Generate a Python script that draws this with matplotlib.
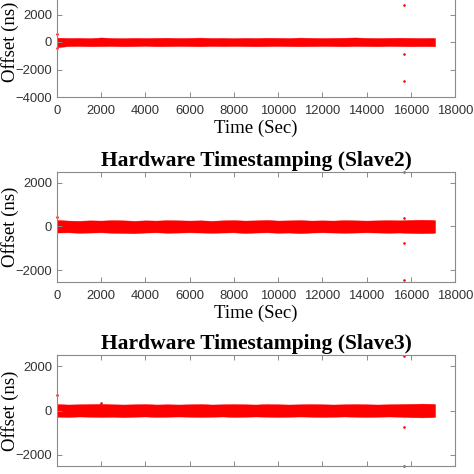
import numpy as np
import matplotlib
matplotlib.use("Agg")
import matplotlib.pyplot as plt

band_t = [0, 500, 1000, 1500, 2000, 2500, 3000, 3500, 4000, 4500, 5000, 5500,
          6000, 6500, 7000, 7500, 8000, 8500, 9000, 9500, 10000, 10500, 11000,
          11500, 12000, 12500, 13000, 13500, 14000, 14500, 15000, 15500, 16000,
          16500, 17000, 17100]

s1_upper = [320, 290, 300, 280, 330, 290, 280, 300, 290, 300, 310, 290, 300, 320,
            290, 300, 280, 300, 290, 310, 300, 290, 320, 300, 290, 300, 310, 330,
            300, 290, 300, 310, 300, 290, 300, 280]
s1_lower = [-380, -300, -290, -310, -300, -290, -310, -300, -280, -310, -300, -290,
            -300, -310, -290, -300, -290, -300, -310, -300, -290, -300, -310, -300,
            -290, -300, -310, -290, -300, -310, -290, -300, -310, -300, -310, -300]

s2_upper = [300, 270, 260, 280, 270, 290, 280, 260, 280, 270, 290, 280, 270, 280,
            260, 280, 290, 270, 280, 300, 270, 280, 290, 270, 280, 270, 290, 280,
            270, 280, 290, 280, 300, 310, 300, 280]
s2_lower = [-280, -270, -290, -280, -270, -290, -300, -310, -280, -270, -290, -280,
            -270, -280, -290, -280, -270, -300, -280, -270, -290, -280, -310, -280,
            -270, -280, -290, -280, -270, -280, -290, -280, -300, -310, -300, -280]

s3_upper = [290, 270, 280, 290, 300, 280, 270, 280, 290, 270, 280, 270, 280, 290,
            270, 280, 290, 280, 270, 290, 280, 270, 280, 290, 280, 270, 280, 290,
            280, 270, 280, 290, 300, 310, 300, 280]
s3_lower = [-280, -290, -270, -280, -290, -280, -300, -280, -270, -290, -280, -270,
            -280, -290, -280, -270, -290, -280, -270, -280, -290, -280, -270, -280,
            -290, -280, -270, -280, -290, -280, -270, -280, -300, -310, -300, -280]

# Isolated outliers (time in s, offset in ns)
s1_out_t = [10, 15, 15700, 15700, 15700]
s1_out_y = [600, -420, 2700, -880, -2800]
s2_out_t = [20, 15700, 15700, 15700, 15700]
s2_out_y = [420, 2480, 380, -780, -2480]
s3_out_t = [10, 2000, 15700, 15700, 15700]
s3_out_y = [700, 320, 2460, -760, -2480]

xticks = list(range(0, 18001, 2000))

SERIF = "Liberation Serif"
SANS = "Liberation Sans"
RED = "#ff0000"
SPINE = "#8a8a8a"
W = H = 474


def px_axes(fig, left, top, right, bottom):
    return fig.add_axes([left / W, 1 - bottom / H, (right - left) / W, (bottom - top) / H])


def style_axes(ax, ylim, yticks, h_px):
    ax.set_xlim(0, 18000)
    ax.set_ylim(*ylim)
    ax.set_xticks(xticks)
    ax.set_yticks(yticks)
    ax.tick_params(direction="in", length=3.5, width=0.7, color=SPINE,
                   top=True, right=True, labelsize=9.4, labelcolor="#333333")
    ax.tick_params(axis="x", pad=6)
    ax.tick_params(axis="y", pad=3.5)
    for lab in ax.get_xticklabels() + ax.get_yticklabels():
        lab.set_family(SANS)
    for sp in ax.spines.values():
        sp.set_color(SPINE)
        sp.set_linewidth(0.8)
    ax.set_ylabel("Offset (ns)", family=SERIF, fontsize=13.5, va="center")
    ax.yaxis.set_label_coords(-47 / 398, 0.5)


def draw(ax, upper, lower, out_t, out_y):
    ax.fill_between(band_t, lower, upper, color=RED, lw=0.3, edgecolor=RED)
    ax.scatter(out_t, out_y, s=3.5, color=RED, lw=0, clip_on=False)


def add_xlabel(ax, h_px):
    ax.set_xlabel("Time (Sec)", family=SERIF, fontsize=13.5, va="center")
    ax.xaxis.set_label_coords(0.5, -31 / h_px)


fig = plt.figure(figsize=(W / 100, H / 100), dpi=100)

ax1 = px_axes(fig, 57, -13, 455, 97)
draw(ax1, s1_upper, s1_lower, s1_out_t, s1_out_y)
style_axes(ax1, (-4000, 4000), [-4000, -2000, 0, 2000], 110)
add_xlabel(ax1, 110)

ax2 = px_axes(fig, 57, 172, 455, 282)
draw(ax2, s2_upper, s2_lower, s2_out_t, s2_out_y)
style_axes(ax2, (-2550, 2500), [-2000, 0, 2000], 110)
add_xlabel(ax2, 110)
ax2.set_title("Hardware Timestamping (Slave2)", family=SERIF, fontsize=15.5,
              fontweight="bold", pad=4)

ax3 = px_axes(fig, 57, 355, 455, 466)
draw(ax3, s3_upper, s3_lower, s3_out_t, s3_out_y)
style_axes(ax3, (-2500, 2500), [-2000, 0, 2000], 111)
ax3.tick_params(axis="x", labelbottom=False)
ax3.set_title("Hardware Timestamping (Slave3)", family=SERIF, fontsize=15.5,
              fontweight="bold", pad=4)

fig.savefig("out.png", dpi=100)
